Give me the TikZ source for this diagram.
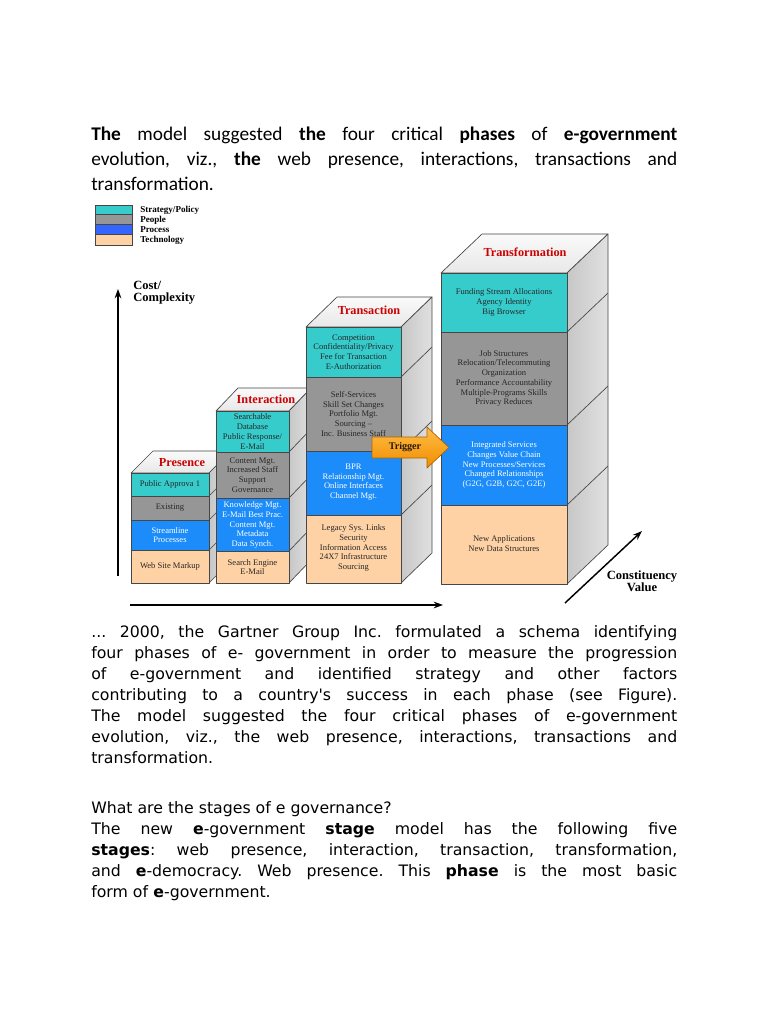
\documentclass[tikz,border=0pt]{standalone}
\usepackage{fontspec}
\setmainfont{Liberation Serif}
\newfontfamily\carl{Carlito}
\newfontfamily\dvs{DejaVu Sans}
\usetikzlibrary{arrows.meta}
\definecolor{cteal}{RGB}{54,204,204}
\definecolor{cgray}{RGB}{150,150,150}
\definecolor{cblue}{RGB}{28,140,250}
\definecolor{cpeach}{RGB}{255,210,165}
\definecolor{lblue}{RGB}{51,102,255}
\definecolor{cred}{RGB}{204,0,0}
\definecolor{orlight}{RGB}{255,190,70}
\definecolor{ordark}{RGB}{240,140,0}
\definecolor{ordraw}{RGB}{170,100,0}
\definecolor{edge}{RGB}{70,70,70}
\tikzset{
  face/.style={draw=edge, line width=0.5pt, line join=round},
  topface/.style={face, top color=black!2, bottom color=black!9},
  sideface/.style={face, left color=black!22, right color=black!12},
  celltext/.style={font=\fontsize{6.4}{7.3}\selectfont, align=center, inner sep=0pt, text=black!85},
  celltextw/.style={celltext, text=white},
  phase/.style={font=\bfseries\fontsize{9.2}{10}\selectfont, text=cred, inner sep=0pt},
  axislabel/.style={font=\bfseries\fontsize{9.4}{9.2}\selectfont, inner sep=0pt},
  axis/.style={line width=1.1pt, -{Stealth[length=7pt,width=5pt]}},
  legtext/.style={font=\bfseries\fontsize{6.8}{8}\selectfont, anchor=west, inner sep=0pt},
  legbox/.style={draw=edge, line width=0.5pt},
  trig/.style={draw=ordraw, line width=0.5pt, line join=round, top color=orlight, bottom color=ordark},
  trigtext/.style={font=\bfseries\fontsize{7.6}{9}\selectfont, text=black!80!brown, inner sep=0pt},
  para/.style={anchor=base west, inner sep=0pt, text width=439.5pt, align=justify},
}
\newcommand{\egbox}[6]{%
  \shadedraw[topface] (#1,#5) -- (#1+#3,#5-#4) -- (#2+#3,#5-#4) -- (#2,#5) -- cycle;
  \shadedraw[sideface] (#2,#5) -- (#2+#3,#5-#4) -- (#2+#3,#6-#4) -- (#2,#6) -- cycle;
}
\newcommand{\egdiv}[4]{\draw[face] (#1,#2) -- ++(#3,-#4);}
\begin{document}
\begin{tikzpicture}[x=0.75pt,y=-0.75pt]
\fill[white] (0,0) rectangle (768,1024);
\useasboundingbox (0,0) rectangle (768,1024);

% ---- intro paragraph
\node[para, font=\carl\fontsize{14.5}{19.1}\selectfont] (intro) at (91,140)
 {\tolerance=10000\hyphenpenalty=10000\frenchspacing \textbf{The} model suggested \textbf{the} four critical \textbf{phases} of \textbf{e-government}\linebreak
  evolution, viz., \textbf{the} web presence, interactions, transactions and\linebreak
  transformation.};

% ---- legend
\filldraw[legbox, fill=cteal] (95,205) rectangle (132,214);
\filldraw[legbox, fill=cgray] (95,214) rectangle (132,224);
\filldraw[legbox, fill=lblue] (95,224) rectangle (132,234);
\filldraw[legbox, fill=cpeach] (95,234) rectangle (132,245);
\node[legtext] (lg1) at (140,210) {Strategy/Policy};
\node[legtext] (lg2) at (140,220) {People};
\node[legtext] (lg3) at (140,230) {Process};
\node[legtext] (lg4) at (140,240.5) {Technology};

% ---- axes
\coordinate (ybot) at (118,576);
\coordinate (ytop) at (118,289);
\draw[axis] (ybot) -- (ytop);
\node[axislabel, anchor=west, align=left] (cost) at (133,293) {Cost/\\Complexity};
\coordinate (xl) at (130,605);
\coordinate (xr) at (443,605);
\draw[axis] (xl) -- (xr);
\coordinate (dl) at (565,603);
\coordinate (dr) at (642,531);
\draw[axis] (dl) -- (dr);
\node[axislabel, align=center] (cv) at (642,581) {Constituency\\Value};

% ---- Presence
\egbox{131}{209}{22}{22}{473}{583}
\filldraw[face, fill=cteal] (131,473) rectangle (209,496);
\filldraw[face, fill=cgray] (131,496) rectangle (209,520);
\filldraw[face, fill=cblue] (131,520) rectangle (209,550);
\filldraw[face, fill=cpeach] (131,550) rectangle (209,583);
\egdiv{209}{496}{22}{22}\egdiv{209}{520}{22}{22}\egdiv{209}{550}{22}{22}
\node[celltext] (p1) at (170,484.5) {Public Approva 1};
\node[celltext] (p2) at (170,508) {Existing};
\node[celltextw] (p3) at (170,535) {Streamline\\Processes};
\node[celltext] (p4) at (170,566.5) {Web Site Markup};
\node[phase] (presence) at (182,463) {Presence};

% ---- Interaction
\egbox{216}{289}{22}{23}{411}{583}
\filldraw[face, fill=cteal] (216,411) rectangle (289,452);
\filldraw[face, fill=cgray] (216,452) rectangle (289,498);
\filldraw[face, fill=cblue] (216,498) rectangle (289,551);
\filldraw[face, fill=cpeach] (216,551) rectangle (289,583);
\egdiv{289}{452}{22}{23}\egdiv{289}{498}{22}{23}\egdiv{289}{551}{22}{23}
\node[celltext] (i1) at (252.5,431.5) {Searchable\\Database\\Public Response/\\E-Mail};
\node[celltext] (i2) at (252.5,475) {Content Mgt.\\Increased Staff\\Support\\Governance};
\node[celltextw] (i3) at (252.5,525) {Knowledge Mgt.\\E-Mail Best Prac.\\Content Mgt.\\Metadata\\Data Synch.};
\node[celltext] (i4) at (252.5,567) {Search Engine\\E-Mail};
\node[phase] (interaction) at (266,399) {Interaction};

% ---- Transaction
\egbox{306}{401}{31}{30}{327}{583}
\filldraw[face, fill=cteal] (306,327) rectangle (401,377);
\filldraw[face, fill=cgray] (306,377) rectangle (401,451);
\filldraw[face, fill=cblue] (306,451) rectangle (401,515);
\filldraw[face, fill=cpeach] (306,515) rectangle (401,583);
\egdiv{401}{377}{31}{30}\egdiv{401}{451}{31}{30}\egdiv{401}{515}{31}{30}
\node[celltext] (t1) at (353.5,352) {Competition\\Confidentiality/Privacy\\Fee for Transaction\\E-Authorization};
\node[celltext] (t2) at (353.5,414) {Self-Services\\Skill Set Changes\\Portfolio Mgt.\\Sourcing --\\Inc. Business Staff};
\node[celltextw] (t3) at (353.5,482) {BPR\\Relationship Mgt.\\Online Interfaces\\Channel Mgt.};
\node[celltext] (t4) at (353.5,548) {Legacy Sys. Links\\Security\\Information Access\\24X7 Infrastructure\\Sourcing};
\node[phase] (transaction) at (369,310) {Transaction};

% ---- Transformation
\egbox{441}{567}{41}{39}{273}{584}
\filldraw[face, fill=cteal] (441,273) rectangle (567,332);
\filldraw[face, fill=cgray] (441,332) rectangle (567,425);
\filldraw[face, fill=cblue] (441,425) rectangle (567,505);
\filldraw[face, fill=cpeach] (441,505) rectangle (567,584);
\egdiv{567}{332}{41}{39}\egdiv{567}{425}{41}{39}\egdiv{567}{505}{41}{39}
\node[celltext] (f1) at (504,302.5) {Funding Stream Allocations\\Agency Identity\\Big Browser};
\node[celltext] (f2) at (504,378.5) {Job Structures\\Relocation/Telecommuting\\Organization\\Performance Accountability\\Multiple-Programs Skills\\Privacy Reduces};
\node[celltextw] (f3) at (504,465) {Integrated Services\\Changes Value Chain\\New Processes/Services\\Changed Relationships\\(G2G, G2B, G2C, G2E)};
\node[celltext] (f4) at (504,543.5) {New Applications\\New Data Structures};
\node[phase] (transformation) at (525,252) {Transformation};

% ---- Trigger arrow
\shadedraw[trig] (372,437) -- (427,437) -- (427,427) -- (449,447.5) -- (427,468) -- (427,458) -- (372,458) -- cycle;
\node[trigtext] (trigger) at (405,447.5) {Trigger};

% ---- body text
\node[para, font=\dvs\fontsize{11.8}{15.75}\selectfont] (gartner) at (91,637)
 {\tolerance=10000\hyphenpenalty=10000\frenchspacing ... 2000, the Gartner Group Inc. formulated a schema identifying\linebreak
  four phases of e- government in order to measure the progression\linebreak
  of e-government and identified strategy and other factors\linebreak
  contributing to a country's success in each phase (see Figure).\linebreak
  The model suggested the four critical phases of e-government\linebreak
  evolution, viz., the web presence, interactions, transactions and\linebreak
  transformation.};

\node[para, font=\dvs\fontsize{11.8}{15.75}\selectfont] (stages) at (91,813)
 {\tolerance=10000\hyphenpenalty=10000\frenchspacing What are the stages of e governance?\\
  The new \textbf{e}-government \textbf{stage} model has the following five\linebreak
  \textbf{stages}: web presence, interaction, transaction, transformation,\linebreak
  and \textbf{e}-democracy. Web presence. This \textbf{phase} is the most basic\linebreak
  form of \textbf{e}-government.};
\end{tikzpicture}
\end{document}
